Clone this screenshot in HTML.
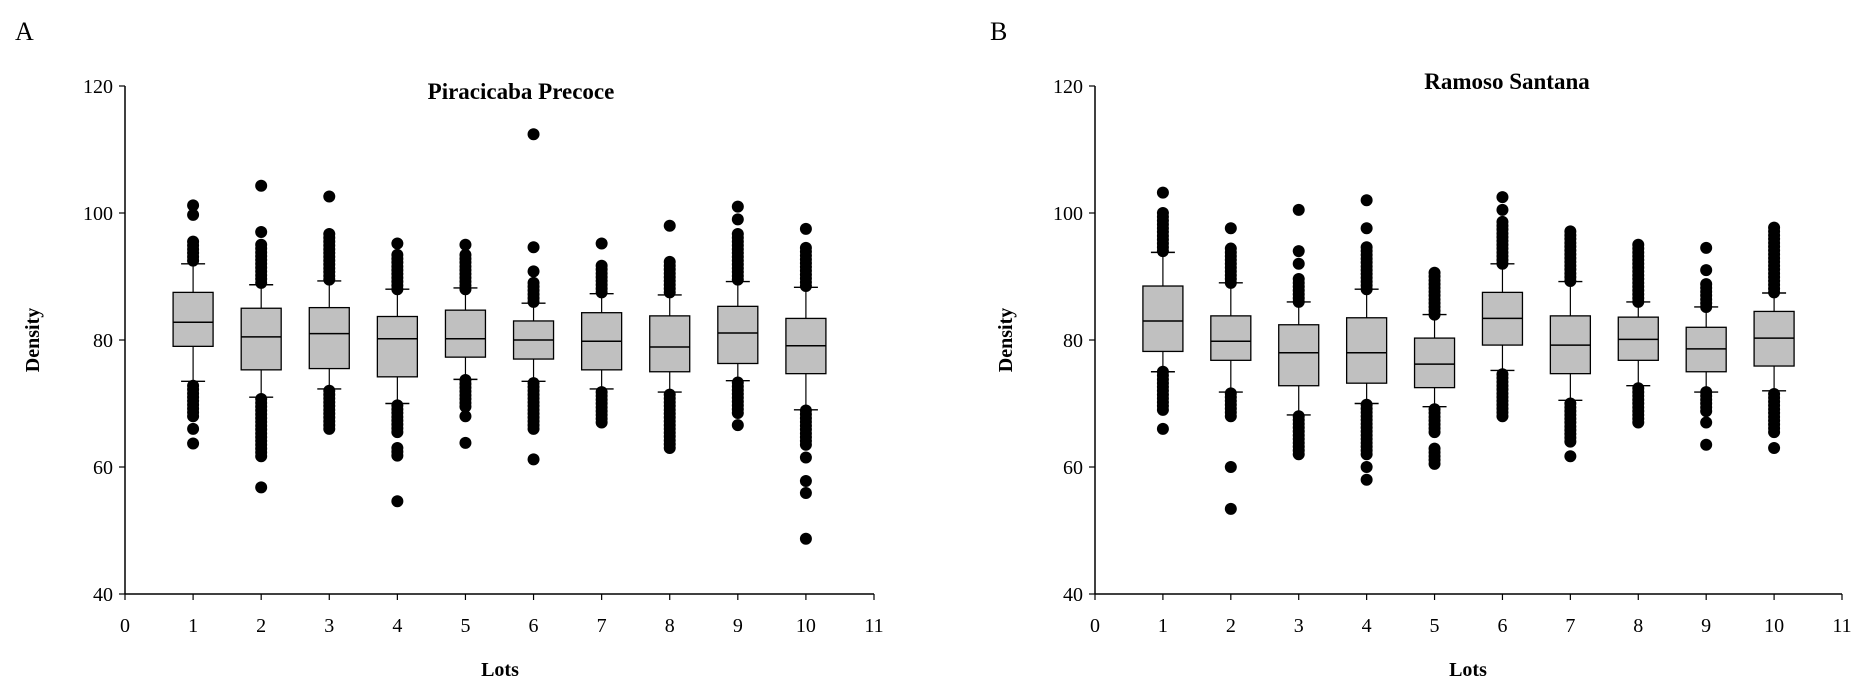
<!DOCTYPE html>
<html><head><meta charset="utf-8"><style>
html,body{margin:0;padding:0;background:#fff;}
svg{display:block;font-family:"Liberation Serif",serif;}
</style></head><body>
<svg id="s" width="1870" height="696" viewBox="0 0 1870 696" xmlns="http://www.w3.org/2000/svg">
<text x="15" y="40" font-size="26">A</text>
<text x="990" y="40" font-size="26">B</text>
</svg>
<script>
var NS="http://www.w3.org/2000/svg",S=document.getElementById('s');
function el(t,a,txt){var e=document.createElementNS(NS,t);for(var k in a)e.setAttribute(k,a[k]);if(txt!=null)e.textContent=txt;S.appendChild(e);return e;}
function panel(x0,x11,title,tx,ty,lx,ylx,data){
 var y120=86,y40=594,Y=function(v){return y40-(v-40)*(y40-y120)/80;},X=function(i){return x0+i*(x11-x0)/11;};
 el('line',{x1:x0,y1:y120,x2:x0,y2:y40,stroke:'#000','stroke-width':1.5});
 el('line',{x1:x0,y1:y40,x2:x11,y2:y40,stroke:'#000','stroke-width':1.5});
 [40,60,80,100,120].forEach(function(v){el('line',{x1:x0-6,y1:Y(v),x2:x0,y2:Y(v),stroke:'#000','stroke-width':1.2});
  el('text',{x:x0-12,y:Y(v)+7,'font-size':20,'text-anchor':'end'},v);});
 for(var i=0;i<=11;i++){el('line',{x1:X(i),y1:y40,x2:X(i),y2:y40+6,stroke:'#000','stroke-width':1.2});
  el('text',{x:X(i),y:632,'font-size':20,'text-anchor':'middle'},i);}
 el('text',{x:tx,y:ty,'font-size':23,'font-weight':'bold','text-anchor':'middle'},title);
 el('text',{x:lx,y:676,'font-size':20,'font-weight':'bold','text-anchor':'middle'},'Lots');
 el('text',{x:0,y:0,'font-size':20,'font-weight':'bold','text-anchor':'middle',transform:'translate('+ylx+',340) rotate(-90)'},'Density');
 data.forEach(function(d,k){
  var cx=X(k+1),q1=d[0],q3=d[1],m=d[2],wl=d[3],wh=d[4];
  el('line',{x1:cx,y1:Y(wh),x2:cx,y2:Y(q3),stroke:'#000','stroke-width':1.2});
  el('line',{x1:cx,y1:Y(q1),x2:cx,y2:Y(wl),stroke:'#000','stroke-width':1.2});
  el('line',{x1:cx-12,y1:Y(wh),x2:cx+12,y2:Y(wh),stroke:'#000','stroke-width':1.4});
  el('line',{x1:cx-12,y1:Y(wl),x2:cx+12,y2:Y(wl),stroke:'#000','stroke-width':1.4});
  el('rect',{x:cx-20,y:Y(q3),width:40,height:Y(q1)-Y(q3),fill:'#c0c0c0',stroke:'#000','stroke-width':1.3});
  el('line',{x1:cx-20,y1:Y(m),x2:cx+20,y2:Y(m),stroke:'#000','stroke-width':1.5});
  d[5].forEach(function(o){
   if(typeof o==='number'){el('circle',{cx:cx,cy:Y(o),r:6,fill:'#000'});}
   else{for(var v=o[0];v<=o[1]+0.01;v+=0.6)el('circle',{cx:cx,cy:Y(v),r:6,fill:'#000'});}
  });
 });
}
panel(125,874,'Piracicaba Precoce',521,99,500,39,[
[79,87.5,82.8,73.5,92,[[92.5,96],99.7,101.2,[68,73],66,63.7]],
[75.3,85,80.5,71,88.7,[[89,95],97,104.3,[61.7,70.8],56.8]],
[75.5,85.1,81,72.3,89.3,[[89.5,97.2],102.6,[66,72]]],
[74.2,83.7,80.2,70,88,[[88,93.5],95.2,[65.5,70],[61.8,63.5],54.6]],
[77.3,84.7,80.2,73.8,88.2,[[88,93.5],95,[69.5,73.8],68,63.8]],
[77,83,80,73.5,85.8,[[86,89],90.8,94.6,112.4,[66,73.5],61.2]],
[75.3,84.3,79.8,72.3,87.3,[[87.5,92],95.2,[67,72.3]]],
[75,83.8,78.9,71.8,87.1,[[87.5,92.8],98,[63,71.8]]],
[76.3,85.3,81.1,73.6,89.2,[[89.5,97],99,101,[68.5,73.5],66.6]],
[74.7,83.4,79.1,69,88.3,[[88.5,95],97.5,[63.5,69],61.5,57.8,55.9,48.7]]
]);
panel(1095,1842,'Ramoso Santana',1507,89,1468,1012,[
[78.2,88.5,83,75,93.8,[[94,100],103.2,[69,75],66]],
[76.8,83.8,79.8,71.8,89,[[89,94.5],97.6,[68,71.8],60,53.4]],
[72.8,82.4,78,68.2,86,[[86,90],92,94,100.5,[62,68]]],
[73.2,83.5,78,70,88,[[88,95],97.6,102,[62,70],60,58]],
[72.5,80.3,76.2,69.5,84,[[84,91],[65.5,69.5],[60.5,63]]],
[79.2,87.5,83.4,75.2,92,[[92,99],100.5,102.5,[68,75]]],
[74.7,83.8,79.2,70.5,89.2,[[89.3,97.5],[64,70.5],61.7]],
[76.8,83.6,80.1,72.8,86,[[86,95],[67,72.8]]],
[75,82,78.6,71.8,85.2,[[85.2,89],91,94.5,[68.8,71.8],67,63.5]],
[75.9,84.5,80.3,72,87.4,[[87.5,98],[65.5,72],63]]
]);
</script>
</body></html>
